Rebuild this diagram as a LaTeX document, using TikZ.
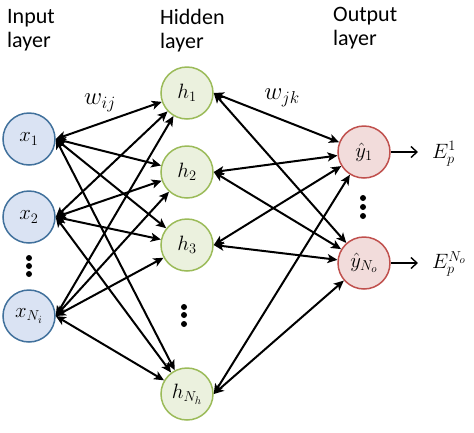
\documentclass[tikz,border=0pt]{standalone}
\usepackage{fontspec}
\setmainfont{Carlito}
\usetikzlibrary{arrows.meta}
\definecolor{inFill}{HTML}{DAE3F3}
\definecolor{inDraw}{HTML}{41719C}
\definecolor{hidFill}{HTML}{EBF1DE}
\definecolor{hidDraw}{HTML}{9BBB59}
\definecolor{outFill}{HTML}{F2DCDB}
\definecolor{outDraw}{HTML}{C0504D}
\tikzset{
  neuron/.style={circle, minimum size=52pt, inner sep=0pt, line width=1.5pt, font=\fontsize{21}{24}\selectfont},
  innode/.style={neuron, fill=inFill, draw=inDraw},
  hidnode/.style={neuron, fill=hidFill, draw=hidDraw},
  outnode/.style={neuron, fill=outFill, draw=outDraw},
  conn/.style={line width=2pt, {Stealth[length=10pt,width=9pt,inset=2.5pt]}-{Stealth[length=10pt,width=9pt,inset=2.5pt]}},
  single/.style={line width=1.4pt, -{Straight Barb[length=6pt,width=11pt]}, shorten >=14pt},
  layerlabel/.style={anchor=north west, align=left, inner sep=0pt, font=\fontsize{22}{24}\selectfont},
  dotmark/.style={circle, fill=black, inner sep=0pt, minimum size=6pt},
  wlabel/.style={font=\fontsize{24}{26}\selectfont, inner sep=0pt},
  elabel/.style={font=\fontsize{22}{24}\selectfont, anchor=west, inner sep=0pt}
}
\begin{document}
\begin{tikzpicture}[x=1pt,y=-1pt]
\useasboundingbox (0,0) rectangle (474,432);
% layer labels
\node[layerlabel] (Lin) at (7,9) {Input\\layer};
\node[layerlabel] (Lhid) at (160,9) {Hidden\\layer};
\node[layerlabel] (Lout) at (333,7) {Output\\layer};
% nodes
\node[innode] (x1) at (29,139) {$x_1$};
\node[innode] (x2) at (29,217) {$x_2$};
\node[innode] (xN) at (29,316) {$x_{N_i}$};
\node[hidnode] (h1) at (187,93) {$h_1$};
\node[hidnode] (h2) at (187,172) {$h_2$};
\node[hidnode] (h3) at (187,245) {$h_3$};
\node[hidnode] (hN) at (187,394) {$h_{N_h}$};
\node[outnode] (y1) at (364,152) {$\hat{y}_1$};
\node[outnode] (yN) at (364,263) {$\hat{y}_{N_o}$};
% dots
\foreach \yy [count=\i] in {258,266,274} \node[dotmark] (din\i) at (29,\yy) {};
\foreach \yy [count=\i] in {307,315,324} \node[dotmark] (dhid\i) at (184,\yy) {};
\foreach \yy [count=\i] in {198,207,216} \node[dotmark] (dout\i) at (363,\yy) {};
% input to hidden
\foreach \a in {x1,x2,xN}
  \foreach \b in {h1,h2,h3,hN}
    \draw[conn] (\a.east) -- (\b);
% hidden to output
\foreach \a in {h1,h2,h3,hN}
  \foreach \b in {y1,yN}
    \draw[conn] (\a.east) -- (\b);
% outputs
\node[elabel] (E1) at (432,154) {$E_p^1$};
\node[elabel] (EN) at (432,264) {$E_p^{N_o}$};
\draw[single] (y1.east) -- (E1.west |- y1.east);
\draw[single] (yN.east) -- (EN.west |- yN.east);
% weight labels
\node[wlabel] (wij) at (100,103) {$w_{ij}$};
\node[wlabel] (wjk) at (282,98) {$w_{jk}$};
\end{tikzpicture}
\end{document}
